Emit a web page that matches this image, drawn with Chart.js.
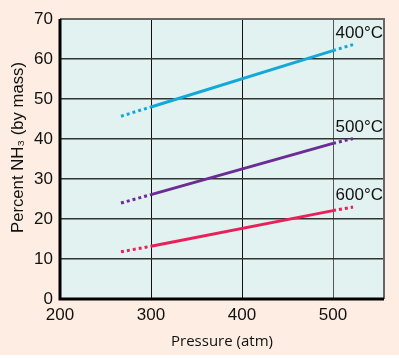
<!DOCTYPE html>
<html>
<head>
<meta charset="utf-8">
<script src="https://cdn.jsdelivr.net/npm/chart.js@4"></script>
<style>
  html, body { margin: 0; padding: 0; background: #ffffff; }
  #wrap { width: 399px; height: 355px; background: #fdede2; }
</style>
</head>
<body>
<div id="wrap"><canvas id="chart" width="399" height="355"></canvas></div>
<script>
// pressure (atm) where each curve is sampled: dotted start, solid start, solid end, dotted end
const pressures = [267, 300, 500, 522];
const nh3_400 = [45.7, 48.0, 62.1, 63.6];
const nh3_500 = [24.0, 26.1, 38.9, 40.1];
const nh3_600 = [11.8, 13.2, 22.1, 23.0];
const seriesLabels = ['400°C', '500°C', '600°C'];
const xTicks = [200, 300, 400, 500];
const yTicks = [0, 10, 20, 30, 40, 50, 60, 70];
const yTitle = 'Percent NH₃ (by mass)';

const colors = ['#12a8d8', '#6b2c95', '#e8215a'];
const font = "'Liberation Sans', Arial, sans-serif";

function makeSet(vals, i) {
    return {
        label: seriesLabels[i],
        data: pressures.map((p, k) => ({ x: p, y: vals[k] })),
        borderColor: colors[i],
        backgroundColor: colors[i],
        borderWidth: 3,
        pointRadius: 0,
        fill: false,
        tension: 0,
        segment: {
            borderDash: c => (c.p0DataIndex === 1 ? undefined : [3, 3])
        }
    };
}

const plotBg = {
    id: 'plotBg',
    beforeDraw(chart) {
        const { ctx, chartArea: a } = chart;
        ctx.save();
        ctx.fillStyle = '#e2f2f1';
        ctx.fillRect(a.left, a.top, a.right - a.left, a.bottom - a.top);
        ctx.restore();
    },
    afterDatasetsDraw(chart) {
        const { ctx, chartArea: a } = chart;
        ctx.save();
        // frame: gray top/right, thick black left/bottom
        ctx.strokeStyle = '#666';
        ctx.lineWidth = 2;
        ctx.beginPath();
        ctx.moveTo(a.left, a.top);
        ctx.lineTo(a.right, a.top);
        ctx.lineTo(a.right, a.bottom);
        ctx.stroke();
        ctx.strokeStyle = '#000';
        ctx.lineWidth = 3;
        ctx.beginPath();
        ctx.moveTo(a.left, a.top);
        ctx.lineTo(a.left, a.bottom);
        ctx.lineTo(a.right, a.bottom);
        ctx.stroke();
        // curve labels at the end of each curve
        const xs = chart.scales.x, ys = chart.scales.y;
        ctx.font = '17px ' + font;
        ctx.fillStyle = '#111';
        ctx.textAlign = 'right';
        ctx.textBaseline = 'bottom';
        chart.data.datasets.forEach(ds => {
            const last = ds.data[ds.data.length - 1];
            ctx.fillText(ds.label, xs.getPixelForValue(last.x) + 30, ys.getPixelForValue(last.y) - 3);
        });
        // y axis title, narrow like the original lettering
        ctx.font = '16px ' + font;
        ctx.textAlign = 'center';
        ctx.textBaseline = 'middle';
        const w = ctx.measureText(yTitle).width;
        ctx.translate(18.5, 147.5);
        ctx.rotate(-Math.PI / 2);
        ctx.scale(171 / w, 1);
        ctx.fillText(yTitle, 0, 0);
        ctx.restore();
    }
};

const ctx = document.getElementById('chart').getContext('2d');
const myChart = new Chart(ctx, {
    type: 'line',
    data: {
        datasets: [makeSet(nh3_400, 0), makeSet(nh3_500, 1), makeSet(nh3_600, 2)]
    },
    options: {
        responsive: false,
        animation: false,
        layout: { padding: { top: 19, right: 15, left: 0, bottom: 4 } },
        scales: {
            x: {
                type: 'linear',
                min: 200,
                max: 556,
                afterBuildTicks: s => { s.ticks = xTicks.map(v => ({ value: v })); },
                afterFit: s => { s.height = 52; },
                grid: {
                    color: c => (c.tick.value === 500 ? '#555' : '#111'),
                    lineWidth: 1,
                    drawTicks: false
                },
                border: { display: false },
                ticks: {
                    color: '#111',
                    padding: 6,
                    font: { family: font, size: 17 }
                },
                title: {
                    display: true,
                    text: 'Pressure (atm)',
                    color: '#111',
                    font: { family: "'Open Sans', sans-serif", size: 15 },
                    padding: { top: 0, bottom: 0 }
                }
            },
            y: {
                min: 0,
                max: 70,
                afterBuildTicks: s => { s.ticks = yTicks.map(v => ({ value: v })); },
                afterFit: s => { s.width = 60; },
                grid: {
                    color: '#333',
                    lineWidth: 1.5,
                    drawTicks: false
                },
                border: { display: false },
                ticks: {
                    color: '#111',
                    padding: 7,
                    font: { family: font, size: 17 }
                }
            }
        },
        plugins: {
            legend: { display: false },
            tooltip: { enabled: false }
        }
    },
    plugins: [plotBg]
});
</script>
</body>
</html>
